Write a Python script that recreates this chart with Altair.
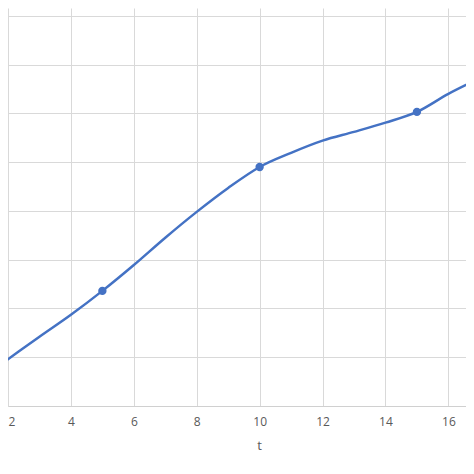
import altair as alt
import pandas as pd

t_vals = [1, 2, 3, 4, 5, 6, 7, 8, 9, 10, 11, 12, 13, 14, 15, 16, 17]
y_vals = [0.5, 0.96, 1.42, 1.87, 2.36, 2.89, 3.45, 3.98, 4.47, 4.90, 5.19, 5.44, 5.62, 5.81, 6.03, 6.40, 6.72]
marker_t = [5, 10, 15]
marker_y = [2.36, 4.90, 6.03]
x_ticks = [2, 4, 6, 8, 10, 12, 14, 16]
y_grid = [0, 1, 2, 3, 4, 5, 6, 7, 8]

line_df = pd.DataFrame({"t": t_vals, "y": y_vals})
mark_df = pd.DataFrame({"t": marker_t, "y": marker_y})

BLUE = "#4472C4"
xscale = alt.Scale(domain=[2, 16.56], nice=False, zero=False)
yscale = alt.Scale(domain=[0, 8.16], nice=False, zero=False)

xaxis = alt.Axis(values=x_ticks, grid=True, gridColor="#d9d9d9", gridWidth=1,
                 domainColor="#d0d0d0", ticks=False, labelColor="#595959",
                 labelFont="Open Sans", labelFontSize=12, labelPadding=10,
                 labelFlush=True, title="t", titleFont="Open Sans",
                 titleFontSize=13, titleFontWeight="normal", titleColor="#595959",
                 titlePadding=12, titleX=251, titleAlign="center")
yaxis = alt.Axis(values=y_grid, grid=True, gridColor="#d9d9d9", gridWidth=1,
                 labels=False, ticks=False, domain=False, title=None)

line = alt.Chart(line_df).mark_line(color=BLUE, strokeWidth=2.5, interpolate="monotone", clip=True).encode(
    x=alt.X("t:Q", scale=xscale, axis=xaxis),
    y=alt.Y("y:Q", scale=yscale, axis=yaxis),
)
pts = alt.Chart(mark_df).mark_circle(color=BLUE, size=70, opacity=1, clip=True).encode(
    x=alt.X("t:Q", scale=xscale),
    y=alt.Y("y:Q", scale=yscale),
)

chart = alt.layer(line, pts).properties(
    width=458, height=398,
    autosize=alt.AutoSizeParams(type="none"),
    padding={"left": 0, "top": 0, "right": 0, "bottom": 60},
).configure_view(stroke=None)

chart.save("out.html", embed_options={"renderer": "svg", "actions": False})
